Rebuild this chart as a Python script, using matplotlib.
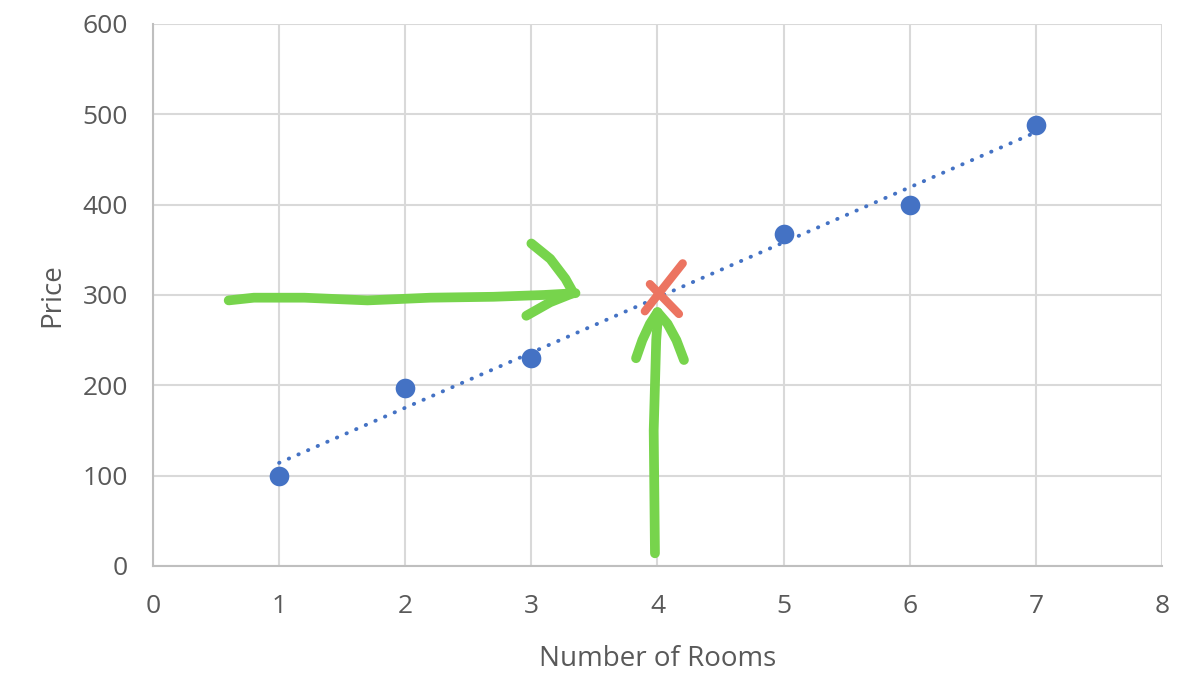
import numpy as np
import matplotlib.pyplot as plt

rooms = [1, 2, 3, 5, 6, 7]
price = [100, 197, 230, 368, 400, 488]

# the point being predicted (hand-drawn marks point at it)
query_rooms = 4
query_price = 300

plt.rcParams['font.family'] = ['Open Sans', 'DejaVu Sans']

fig = plt.figure(figsize=(12, 6.93), dpi=100)
ax = fig.add_axes([0.1275, 0.1833, 0.8408, 0.7821])

# trendline like Excel's linear fit
slope, intercept = np.polyfit(rooms, price, 1)
fit_x = np.array([min(rooms), max(rooms)])
ax.plot(fit_x, slope * fit_x + intercept, color='#4472C4', lw=2.8,
        linestyle=(0, (0.1, 2.6)), dash_capstyle='round', zorder=3)

ax.scatter(rooms, price, s=200, color='#4472C4', zorder=4, linewidths=0)

# hand-drawn green arrows
green = '#77D44C'
kw = dict(color=green, lw=7, solid_capstyle='round', solid_joinstyle='round', zorder=5)
ax.plot([0.6, 0.8, 1.2, 1.7, 2.2, 2.7, 3.1, 3.35],
        [294, 297, 297, 294, 297, 298, 300, 302], **kw)
ax.plot([3.0, 3.15, 3.27, 3.33], [357, 340, 318, 303], **kw)
ax.plot([2.96, 3.15, 3.33], [277, 292, 302], **kw)
ax.plot([query_rooms - 0.02, query_rooms - 0.03, query_rooms - 0.01, query_rooms + 0.005],
        [14, 150, 250, 279], **kw)
ax.plot([3.83, 3.88, 3.94, 4.0], [230, 250, 268, 281], **kw)
ax.plot([4.0, 4.08, 4.15, 4.21], [281, 268, 250, 228], **kw)

# red cross at the prediction
red = '#EC7461'
kx = dict(color=red, lw=6, solid_capstyle='round', zorder=6)
ax.plot([query_rooms - 0.1, query_rooms + 0.2], [query_price - 18, query_price + 35], **kx)
ax.plot([query_rooms - 0.06, query_rooms + 0.17], [query_price + 12, query_price - 21], **kx)

ax.set_xlim(0, 8)
ax.set_ylim(0, 600)
ax.set_xticks(range(0, 9))
ax.set_yticks(range(0, 601, 100))
ax.grid(True, color='#D9D9D9', lw=1.5)
ax.set_axisbelow(True)
for s in ['top', 'right']:
    ax.spines[s].set_visible(False)
for s in ['left', 'bottom']:
    ax.spines[s].set_color('#BFBFBF')
    ax.spines[s].set_linewidth(1.5)
ax.tick_params(length=0, labelsize=19, labelcolor='#595959')
ax.tick_params(axis='x', pad=20)
ax.tick_params(axis='y', pad=18)

ax.set_xlabel('Number of Rooms', fontsize=20, color='#595959', labelpad=19)
ax.set_ylabel('Price', fontsize=20, color='#595959', labelpad=12)

fig.savefig('out.png', dpi=100)
